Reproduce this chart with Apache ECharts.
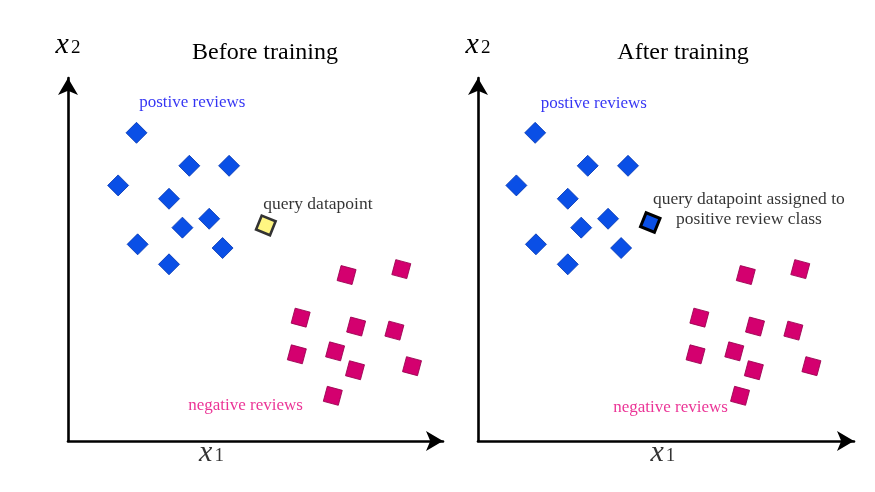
<!DOCTYPE html>
<html>
<head>
<meta charset="utf-8">
<script src="https://cdn.jsdelivr.net/npm/echarts@6/dist/echarts.min.js"></script>
<style>
html,body{margin:0;padding:0;background:#fff;}
#main{width:875px;height:492px;}
</style>
</head>
<body>
<div id="main"></div>
<script>
// ---- data (x1, x2 in arbitrary feature units) ----
var titles = ['Before training', 'After training'];

var positiveBefore = [[17.9,83.2],[31.7,74.3],[42.1,74.3],[13.1,69.0],[26.4,65.4],[36.9,60.0],[29.9,57.6],[18.2,53.1],[40.4,52.1],[26.4,47.7]];
var negativeBefore = [[72.8,44.8],[87.1,46.4],[60.8,33.3],[75.3,30.9],[85.3,29.8],[59.8,23.4],[69.8,24.2],[75.0,19.1],[89.9,20.2],[69.2,12.2]];
var queryBefore = [[51.7,58.2]];

var positiveAfter = [[14.9,83.2],[28.6,74.3],[39.1,74.3],[10.0,69.0],[23.4,65.4],[33.9,60.0],[26.9,57.6],[15.1,53.1],[37.3,52.1],[23.4,47.7]];
var negativeAfter = [[69.8,44.8],[84.0,46.4],[57.7,33.3],[72.2,30.9],[82.2,29.8],[56.7,23.4],[66.8,24.2],[71.9,19.1],[86.9,20.2],[68.3,12.2]];
var queryAfter = [[44.9,59.0]];

// annotations: [x1, x2, text key]
var notesBefore = [[32.5,91.3,'pos'],[51.0,64.0,'qb'],[46.4,9.5,'neg'],[37.5,-3.2,'x1']];
var notesAfter  = [[30.2,91.2,'pos'],[70.6,62.4,'qa'],[50.2,9.1,'neg'],[48.2,-3.2,'x1']];
var noteTexts = {
  pos: '{pos|postive reviews}',
  neg: '{neg|negative reviews}',
  qb: '{q|query datapoint}',
  qa: '{q|query datapoint assigned to}\n{q|positive review class}',
  x1: '{x|x}{s|1}'
};

var SERIF = '"Liberation Serif", "DejaVu Serif", serif';
var BLUE = '#0a4fe6', RED = '#d4006f';

var rich = {
  pos: {color:'#0000f0', fontFamily:SERIF, fontSize:17},
  neg: {color:'#e6007c', fontFamily:SERIF, fontSize:17},
  q: {color:'#000', fontFamily:SERIF, fontSize:17.5, lineHeight:20, align:'center'},
  x: {color:'#000', fontFamily:SERIF, fontStyle:'italic', fontSize:30, lineHeight:26},
  s: {color:'#000', fontFamily:SERIF, fontSize:19, lineHeight:26, verticalAlign:'bottom', padding:[0,0,0,2]}
};

function axisPair(i) {
  var line = {show:true, onZero:false, symbol:['none','arrow'], symbolSize:[15,17],
              lineStyle:{color:'#000', width:2.6}};
  return {
    x: {type:'value', gridIndex:i, min:0, max:98, axisLine:line, axisTick:{show:false},
        axisLabel:{show:false}, splitLine:{show:false}},
    y: {type:'value', gridIndex:i, min:0, max:98, axisLine:line, axisTick:{show:false},
        axisLabel:{show:false}, splitLine:{show:false},
        name:'{x|x}{s|2}', nameLocation:'end', nameGap:20,
        nameTextStyle:{rich:rich, align:'center'}}
  };
}
var a0 = axisPair(0), a1 = axisPair(1);

function pointSeries(i, data, symbol, size, rot, color, border, bw) {
  return {type:'scatter', xAxisIndex:i, yAxisIndex:i, data:data, symbol:symbol,
          symbolSize:size, symbolRotate:rot, silent:true, clip:false,
          itemStyle:{color:color, borderColor:border, borderWidth:bw, opacity:1}};
}
function noteSeries(i, data) {
  return {type:'scatter', xAxisIndex:i, yAxisIndex:i, data:data, symbolSize:0,
          silent:true, clip:false,
          label:{show:true, position:'inside', align:'center', verticalAlign:'middle',
                 formatter:function(p){return noteTexts[p.value[2]];}, rich:rich}};
}
var nb = noteSeries(0, notesBefore.map(function(d){
  var o = {value:d};
  if (d[2]==='qb') o.label = {align:'left'};
  return o;
}));
var na = noteSeries(1, notesAfter);

var chart = echarts.init(document.getElementById('main'), null, {renderer:'canvas'});
chart.setOption({
  backgroundColor:'#fff',
  animation:false,
  title:[
    {text:titles[0], left:260, top:36, textAlign:'center',
     textStyle:{fontFamily:SERIF, fontSize:24, fontWeight:'normal', color:'#000'}},
    {text:titles[1], left:678, top:36, textAlign:'center',
     textStyle:{fontFamily:SERIF, fontSize:24, fontWeight:'normal', color:'#000'}}
  ],
  grid:[
    {left:68, top:78, width:375, height:363},
    {left:478, top:78, width:376, height:363}
  ],
  xAxis:[a0.x, a1.x],
  yAxis:[a0.y, a1.y],
  series:[
    pointSeries(0, positiveBefore, 'diamond', 21, 0, BLUE, '#0033b0', 0.8),
    pointSeries(0, negativeBefore, 'rect', 15.5, -15, RED, '#9a0050', 0.8),
    pointSeries(0, queryBefore, 'rect', 15, -22, '#fff682', '#333333', 2.6),
    pointSeries(1, positiveAfter, 'diamond', 21, 0, BLUE, '#0033b0', 0.8),
    pointSeries(1, negativeAfter, 'rect', 15.5, -15, RED, '#9a0050', 0.8),
    pointSeries(1, queryAfter, 'rect', 15, -22, BLUE, '#000000', 3),
    nb, na
  ]
});
</script>
</body>
</html>
